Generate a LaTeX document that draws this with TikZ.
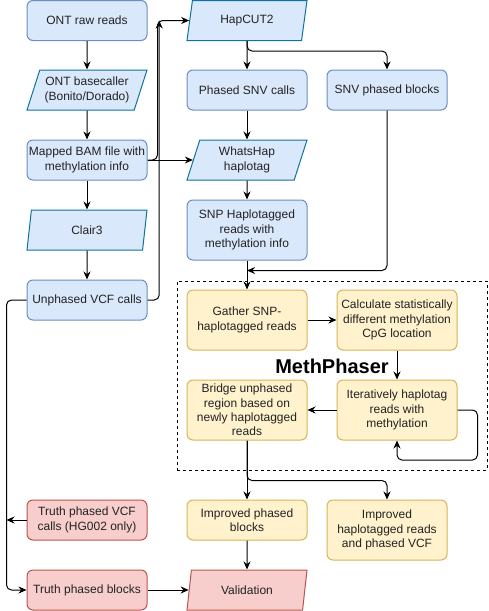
\documentclass[tikz,border=0pt]{standalone}
\usepackage{fontspec}
\setmainfont{Liberation Sans}
\usetikzlibrary{shapes.geometric, arrows.meta}

\definecolor{blueF}{HTML}{DAE8FC}
\definecolor{blueD}{HTML}{6C8EBF}
\definecolor{paraD}{HTML}{10739E}
\definecolor{yellowF}{HTML}{FFF2CC}
\definecolor{yellowD}{HTML}{D6B656}
\definecolor{redF}{HTML}{F8CECC}
\definecolor{redD}{HTML}{B85450}
\definecolor{txt}{HTML}{222222}

\begin{document}
\begin{tikzpicture}[x = 1pt, y = -1pt,
  every node/.style = {font = \fontsize{12}{14.4}\selectfont, text = txt, align = center, inner sep = 0pt},
  box/.style = {rounded corners = 6pt, line width = 1pt, minimum width = 120pt, minimum height = 40pt},
  tallbox/.style = {box, minimum height = 60pt},
  para/.style = {trapezium, trapezium left angle = 63.43, trapezium right angle = 116.57,
    trapezium stretches body, line width = 1pt, minimum width = 120pt, minimum height = 40pt},
  blue/.style = {draw = blueD, fill = blueF},
  bluepara/.style = {para, draw = paraD, fill = blueF},
  yellow/.style = {draw = yellowD, fill = yellowF},
  red/.style = {draw = redD, fill = redF},
  redpara/.style = {para, draw = redD, fill = redF},
  link/.style = {line width = 1pt, rounded corners = 5pt, -{Stealth[length = 8pt, width = 7pt]}}]
\useasboundingbox (0, 0) rectangle (488, 611);
\node[box, blue] (raw) at (87, 20.5){ONT raw reads};
\node[bluepara] (basecaller) at (87, 90){ONT basecaller\\(Bonito/Dorado)};
\node[box, blue] (bam) at (87, 160){Mapped BAM file with\\methylation info};
\node[bluepara] (clair) at (87, 230){Clair3};
\node[box, blue] (unphased) at (87, 300){Unphased VCF calls};
\node[box, red] (truthvcf) at (87, 520){Truth phased VCF\\calls (HG002 only)};
\node[box, red] (truthblocks) at (87, 590){Truth phased blocks};
\node[bluepara] (hapcut) at (247, 20.5){HapCUT2};
\node[box, blue] (snvcalls) at (247, 90){Phased SNV calls};
\node[box, blue] (snvblocks) at (387, 90){SNV phased blocks};
\node[bluepara] (whatshap) at (247, 160){WhatsHap\\haplotag};
\node[tallbox, blue] (snptag) at (247, 230){SNP Haplotagged\\reads with\\methylation info};
\node[draw, dashed, line width = 0.8pt, minimum width = 310pt, minimum height = 189pt] (methbox) at (332, 375.5){};
\node[tallbox, yellow] (gather) at (247, 320){Gather SNP-\\haplotagged reads};
\node[tallbox, yellow] (calc) at (397, 320){Calculate statistically\\different methylation\\CpG location};
\node[tallbox, yellow] (iter) at (397, 410){Iteratively haplotag\\reads with\\methylation};
\node[tallbox, yellow] (bridge) at (247, 410){Bridge unphased\\region based on\\newly haplotagged\\reads};
\node[font = \fontsize{20}{24}\selectfont\bfseries, text = black] (meth) at (332, 366){MethPhaser};
\node[box, yellow] (impblocks) at (247, 520){Improved phased\\blocks};
\node[tallbox, yellow] (impreads) at (387, 530){Improved\\haplotagged reads\\and phased VCF};
\node[redpara] (valid) at (247, 590){Validation};
\draw[link] (raw) -- (basecaller);
\draw[link] (basecaller) -- (bam);
\draw[link] (bam) -- (clair);
\draw[link] (clair) -- (unphased);
\draw[link] (bam.east) -- (whatshap.left side);
\draw[link] (bam.east) -- ++(10, 0) |- (hapcut.left side);
\draw[link] (unphased.east) -| ([xshift = -30pt]hapcut.left side);
\draw[link] (hapcut.south) -- (snvcalls.north);
\draw[link] (hapcut.south) -- ++(0, 10) -| (snvblocks.north);
\draw[link] (snvcalls) -- (whatshap);
\draw[link] (whatshap.south) -- (snptag.north);
\draw[link] (snptag) -- (gather);
\draw[link] (snvblocks.south) |- ([yshift = -10pt]snptag.south);
\draw[link] (gather) -- (calc);
\draw[link] (calc) -- (iter);
\draw[link] (iter.east) -- ++(20, 0) -- ++(0, 50) -| (iter.south);
\draw[link] (iter) -- (bridge);
\draw[link] (bridge.south) -- (impblocks.north);
\draw[link] (bridge.south) -- ++(0, 40) -| (impreads.north);
\draw[link] (impblocks.south) -- (valid.north);
\draw[link] (truthblocks.east) -- (valid.left side);
\draw[link] (unphased.west) -- ++(-20, 0) |- (truthblocks.west);
\draw[link] (truthvcf.west) -- ++(-20, 0);
\end{tikzpicture}
\end{document}
